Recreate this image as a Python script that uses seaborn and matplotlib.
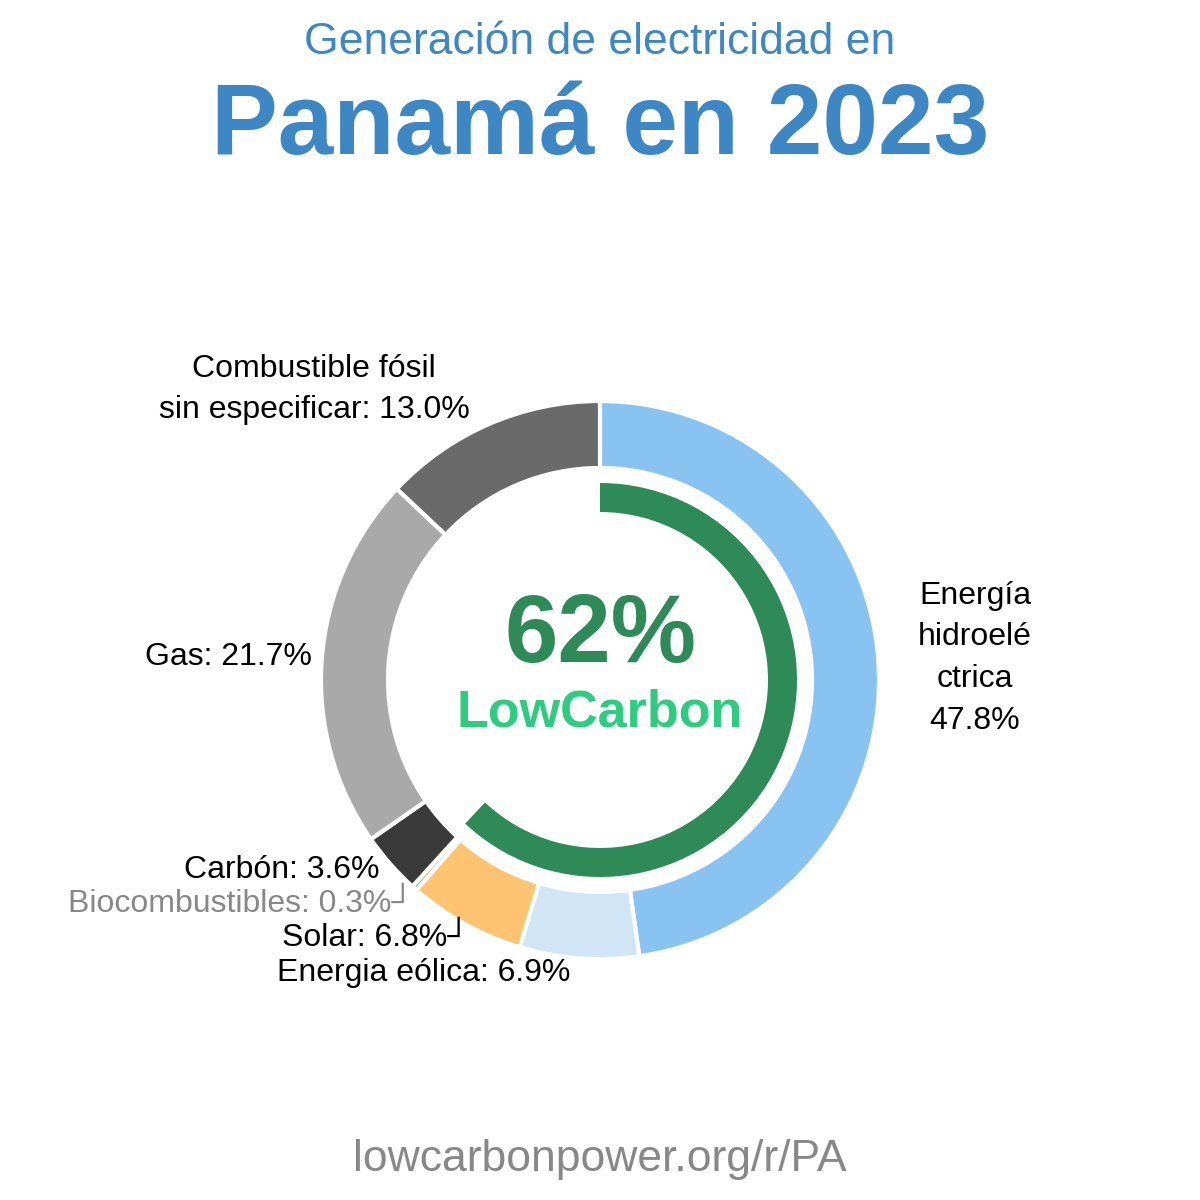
import matplotlib
matplotlib.use("Agg")
import matplotlib.pyplot as plt
import seaborn as sns

sns.set_theme(style="white")
plt.rcParams['font.family'] = ['Liberation Sans', 'DejaVu Sans']

categories = ["Energía hidroeléctrica", "Energia eólica", "Solar", "Biocombustibles",
              "Carbón", "Gas", "Combustible fósil sin especificar"]
values = [47.8, 6.9, 6.8, 0.3, 3.6, 21.7, 13.0]
colors = ["#89c3f2", "#d0e6f6", "#ffc472", "#9a9a50", "#3a3a3a", "#a9a9a9", "#6a6a6a"]
lowcarbon = 62

fig = plt.figure(figsize=(12, 12), dpi=100)
ax = fig.add_axes([0, 0, 1, 1])
ax.set_xlim(0, 1200); ax.set_ylim(0, 1200); ax.set_aspect('equal'); ax.axis('off')

cx, cy = 600, 520
ax.pie(values, colors=colors, center=(cx, cy), radius=279, startangle=90, counterclock=False,
       wedgeprops=dict(width=67, edgecolor='white', linewidth=3))
ax.pie([lowcarbon, 100 - lowcarbon], colors=["#2e8b57", "none"], center=(cx, cy), radius=197,
       startangle=90, counterclock=False, wedgeprops=dict(width=29, linewidth=0))
ax.set_xlim(0, 1200); ax.set_ylim(0, 1200)

def t(x, y, s, pt=23, color="black", **kw):
    ax.text(x, 1200 - y, s, fontsize=pt, color=color, ha=kw.pop('ha', 'center'), va='center', **kw)

t(600, 42, "Generación de electricidad en", 32, "#3d88c4")
t(600, 128, "Panamá en 2023", 72, "#3d88c4", fontweight='bold')
t(600, 637, f"{lowcarbon}%", 69, "#2e8b57", fontweight='bold')
t(600, 713, "LowCarbon", 37.5, "#2ecc80", fontweight='bold')
t(975, 596, "Energía"); t(975, 637, "hidroelé"); t(975, 679, "ctrica"); t(975, 721, "47.8%")
t(314, 369, "Combustible fósil"); t(314, 410, "sin especificar: 13.0%")
t(312, 657, "Gas: 21.7%", ha='right')
t(380, 870, "Carbón: 3.6%", ha='right')
t(414, 904, "Biocombustibles: 0.3%┘", color="#888888", ha='right')
t(470, 938, "Solar: 6.8%┘", ha='right')
t(570, 973, "Energia eólica: 6.9%", ha='right')
t(600, 1160, "lowcarbonpower.org/r/PA", 32, "#888888")

fig.savefig("out.png", dpi=100, facecolor="white")
